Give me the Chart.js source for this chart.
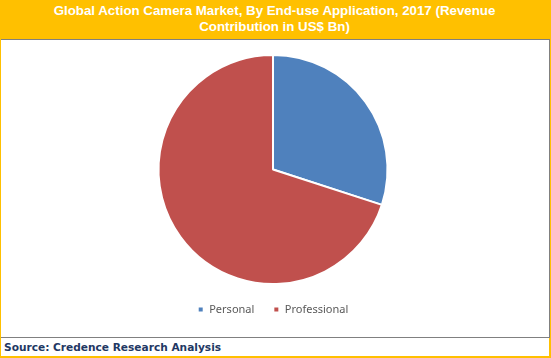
<!DOCTYPE html>
<html>
<head>
<meta charset="utf-8">
<script src="https://cdn.jsdelivr.net/npm/chart.js@4"></script>
<style>
  html, body { margin:0; padding:0; background:#fff; }
  #frame { position:relative; width:551px; height:358px; background:#FFC000; box-sizing:border-box; }
  #title { position:absolute; left:0; top:0; width:549px; height:39px; color:#fff;
    font:bold 13.3px "Liberation Sans", Arial, sans-serif; text-align:center; line-height:16px; padding-top:3px; box-sizing:border-box; }
  #box { position:absolute; left:1px; top:39px; width:549px; height:299px; background:#fff;
    border-top:1px solid #808080; border-right:1px solid #808080; border-bottom:1px solid #808080; box-sizing:border-box; }
  #src { position:absolute; left:1px; top:338px; width:548px; height:18px; background:#fff;
    color:#1F3864; font:bold 10.6px "DejaVu Sans", Verdana, sans-serif; line-height:18px; padding-left:3px; box-sizing:border-box; }
  #wrap { position:absolute; left:0; top:0; width:548px; height:297px; }
</style>
</head>
<body>
<div id="frame">
  <div id="title">Global Action Camera Market, By End-use Application, 2017 (Revenue<br>Contribution in US$ Bn)</div>
  <div id="box"><div id="wrap"><canvas id="pie"></canvas></div></div>
  <div id="src">Source: Credence Research Analysis</div>
</div>
<script>
// end-use share
const categories = ['Personal', 'Professional'];
const shares = [30, 70];
const colors = ['#4F81BD', '#C0504D'];

new Chart(document.getElementById('pie'), {
  type:'pie',
  data:{ labels:categories, datasets:[{ data:shares, backgroundColor:colors, borderColor:'#fff', borderWidth:2 }] },
  options:{
    responsive:true, maintainAspectRatio:false, animation:false,
    layout:{ padding:{ top:14, bottom:12, right:4 } },
    plugins:{
      tooltip:{ enabled:false },
      legend:{ position:'bottom',
        labels:{ boxWidth:6, boxHeight:6, padding:19, color:'#595959',
          font:{ family:'"Noto Sans", sans-serif', size:11 } } }
    }
  }
});
</script>
</body>
</html>
